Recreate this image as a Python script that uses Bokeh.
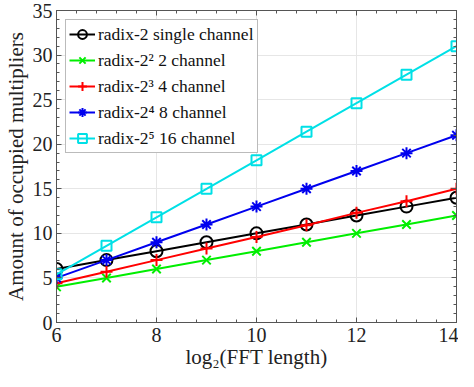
from bokeh.plotting import figure
from bokeh.models import LinearAxis, Range1d, CustomJSTickFormatter, Legend, LegendItem, SingleIntervalTicker
from bokeh.embed import file_html
from bokeh.resources import INLINE

x = [6, 7, 8, 9, 10, 11, 12, 13, 14]
radix2 = [6, 7, 8, 9, 10, 11, 12, 13, 14]
radix22 = [4, 5, 6, 7, 8, 9, 10, 11, 12]
radix23 = [4.4, 5.7, 7.0, 8.3, 9.6, 10.9, 12.3, 13.6, 15.0]
radix24 = [5, 7, 9, 11, 13, 15, 17, 19, 21]
radix25 = [5.4, 8.6, 11.8, 15.0, 18.2, 21.4, 24.6, 27.8, 31.0]

labels = ["radix-2 single channel", "radix-2\u00b2 2 channel", "radix-2\u00b3 4 channel",
          "radix-2\u2074 8 channel", "radix-2\u2075 16 channel"]
colors = ["#000000", "#00ee00", "#ff0000", "#0000ee", "#00e0e6"]
markers = ["circle", "x", "cross", "asterisk", "square"]
series = [radix2, radix22, radix23, radix24, radix25]

FONT = "Liberation Serif"

p = figure(width=458, height=371, output_backend="svg", toolbar_location=None,
           x_range=Range1d(6, 14), y_range=Range1d(0, 35),
           min_border_left=0, min_border_right=2, min_border_top=10, min_border_bottom=0)
p.outline_line_color = None
p.background_fill_color = "white"

items = []
for ys, c, m, lab in zip(series, colors, markers, labels):
    r1 = p.line(x, ys, line_color=c, line_width=2)
    r2 = p.scatter(x, ys, marker=m, size=12 if m != "square" else 10, line_color=c,
                   fill_color=None, line_width=2)
    items.append(LegendItem(label=lab, renderers=[r1, r2]))

tick_x = SingleIntervalTicker(interval=2, num_minor_ticks=5)
tick_y = SingleIntervalTicker(interval=5, num_minor_ticks=5)

xb = p.below[0]
yl = p.left[0]
xb.ticker = tick_x
yl.ticker = tick_y

xt = LinearAxis(ticker=SingleIntervalTicker(interval=2, num_minor_ticks=5),
                formatter=CustomJSTickFormatter(code="return ''"))
yr = LinearAxis(ticker=SingleIntervalTicker(interval=5, num_minor_ticks=5),
                formatter=CustomJSTickFormatter(code="return ''"))
p.add_layout(xt, "above")
p.add_layout(yr, "right")

for ax in [xb, yl, xt, yr]:
    ax.axis_line_color = "#555555"
    ax.axis_line_width = 1
    ax.major_tick_in = 5
    ax.major_tick_out = 0
    ax.minor_tick_in = 3
    ax.minor_tick_out = 0
    ax.major_tick_line_color = "#555555"
    ax.minor_tick_line_color = "#555555"
    ax.major_label_text_font = FONT
    ax.major_label_text_font_size = "20px"
    ax.major_label_text_color = "#222222"
    ax.axis_label_text_font = FONT
    ax.axis_label_text_font_style = "normal"
    ax.axis_label_text_font_size = "21px"
    ax.axis_label_text_color = "#222222"

xt.major_label_standoff = 0
yr.major_label_standoff = 0

xb.axis_label = "log\u2082(FFT length)"
yl.axis_label = "Amount of occupied multipliers"
xb.major_label_standoff = 5
yl.major_label_standoff = 4
xb.axis_label_standoff = 0
yl.axis_label_standoff = 2

p.xgrid.ticker = tick_x
p.ygrid.ticker = tick_y
p.grid.grid_line_color = "#e6e6e6"

legend = Legend(items=items, location="top_left")
legend.label_text_font = FONT
legend.label_text_font_size = "17.5px"
legend.label_text_color = "#111111"
legend.border_line_color = "#777777"
legend.border_line_width = 1
legend.background_fill_color = "white"
legend.background_fill_alpha = 1
legend.glyph_width = 26
legend.label_standoff = 3
legend.spacing = 4
legend.padding = 3
legend.margin = 9
legend.label_height = 22
legend.glyph_height = 22
p.add_layout(legend)

open("out.html", "w").write(file_html(p, INLINE))
